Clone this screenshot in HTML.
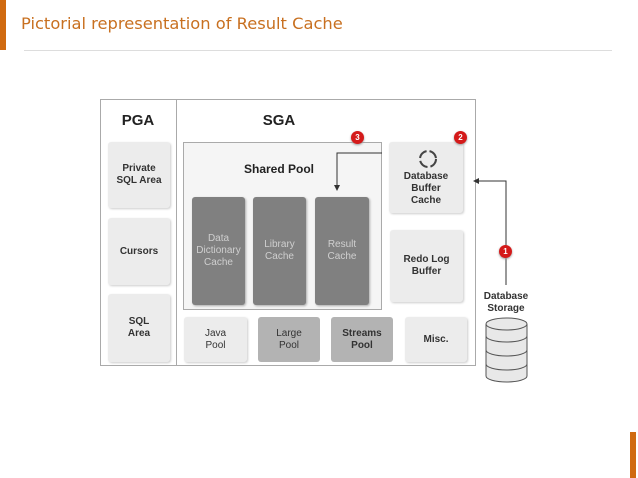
<!DOCTYPE html>
<html><head><style>
body{margin:0;width:638px;height:478px;background:#fff;position:relative;overflow:hidden;font-family:"Liberation Sans",sans-serif}
.a{position:absolute}
.b{position:absolute;box-sizing:border-box;display:flex;align-items:center;justify-content:center;text-align:center;font-size:10px;font-weight:bold;color:#333;line-height:12px;border-radius:3px}
.l{background:#ececec;box-shadow:1px 1px 2px #ccc}
.d{background:#808080;color:#cfcfcf;font-weight:normal;box-shadow:1px 1px 2px #aaa}
.m{background:#b3b3b3;color:#333}
.r{position:absolute;width:13px;height:13px;border-radius:50%;background:#d41a1a;color:#fff;font-size:8px;font-weight:bold;display:flex;align-items:center;justify-content:center;box-shadow:0 1px 2px #999}
</style></head><body>
<div class="a" style="left:0;top:0;width:6px;height:50px;background:#d06a10"></div>
<div class="a" style="left:21px;top:14px;color:#c87020;font-family:'DejaVu Sans',sans-serif;font-size:16.3px">Pictorial representation of Result Cache</div>
<div class="a" style="left:24px;top:50px;width:588px;height:1px;background:#ddd"></div>
<div class="a" style="left:630px;top:432px;width:6px;height:46px;background:#d06a10"></div>

<div class="a" style="left:100px;top:99px;width:376px;height:267px;border:1px solid #aaa;box-sizing:border-box"></div>
<div class="a" style="left:176px;top:99px;width:1px;height:267px;background:#aaa"></div>
<div class="a" style="left:100px;top:112px;width:76px;text-align:center;font-weight:bold;font-size:15px;color:#222">PGA</div>
<div class="a" style="left:176px;top:112px;width:206px;text-align:center;font-weight:bold;font-size:15px;color:#222">SGA</div>
<div class="a" style="left:183px;top:142px;width:199px;height:168px;border:1px solid #aaa;box-sizing:border-box;background:#f5f5f5"></div>
<div class="a" style="left:183px;top:162px;width:192px;text-align:center;font-weight:bold;font-size:12px;color:#222">Shared Pool</div>

<div class="b l" style="left:108px;top:142px;width:62px;height:66px">Private<br>SQL Area</div>
<div class="b l" style="left:108px;top:218px;width:62px;height:67px">Cursors</div>
<div class="b l" style="left:108px;top:294px;width:62px;height:68px">SQL<br>Area</div>

<div class="b d" style="left:192px;top:197px;width:53px;height:108px">Data<br>Dictionary<br>Cache</div>
<div class="b d" style="left:253px;top:197px;width:53px;height:108px">Library<br>Cache</div>
<div class="b d" style="left:315px;top:197px;width:54px;height:108px">Result<br>Cache</div>

<div class="b l" style="left:184px;top:317px;width:63px;height:45px;font-weight:normal;color:#333">Java<br>Pool</div>
<div class="b m" style="left:258px;top:317px;width:62px;height:45px;font-weight:normal">Large<br>Pool</div>
<div class="b m" style="left:331px;top:317px;width:62px;height:45px">Streams<br>Pool</div>
<div class="b l" style="left:405px;top:317px;width:62px;height:45px">Misc.</div>

<div class="b l" style="left:389px;top:142px;width:74px;height:71px;padding-top:22px">Database<br>Buffer<br>Cache</div>
<div class="b l" style="left:390px;top:230px;width:73px;height:72px">Redo Log<br>Buffer</div>

<svg class="a" style="left:0;top:0" width="638" height="478">
<circle cx="428" cy="159" r="8" fill="none" stroke="#444" stroke-width="2" stroke-dasharray="10 3"/>
<polyline points="506,285 506,181 478,181" fill="none" stroke="#333" stroke-width="1"/>
<polygon points="473,181 479,178 479,184" fill="#333"/>
<polyline points="382,153 337,153 337,186" fill="none" stroke="#333" stroke-width="1"/>
<polygon points="337,191 334,185 340,185" fill="#333"/>
<g fill="#e8e8e8" stroke="#555" stroke-width="1">
<path d="M486,364 v12 a20.5,6 0 0 0 41,0 v-12"/>
<path d="M486,350 v14 a20.5,6 0 0 0 41,0 v-14"/>
<path d="M486,336 v14 a20.5,6 0 0 0 41,0 v-14"/>
<path d="M486,324 v12 a20.5,6 0 0 0 41,0 v-12"/>
<ellipse cx="506.5" cy="324" rx="20.5" ry="6"/>
</g>
</svg>
<div class="a" style="left:476px;top:291px;width:60px;text-align:center;font-size:10px;font-weight:bold;color:#333;line-height:12px">Database<br>Storage</div>
<div class="r" style="left:351px;top:131px">3</div>
<div class="r" style="left:454px;top:131px">2</div>
<div class="r" style="left:499px;top:245px">1</div>
</body></html>
